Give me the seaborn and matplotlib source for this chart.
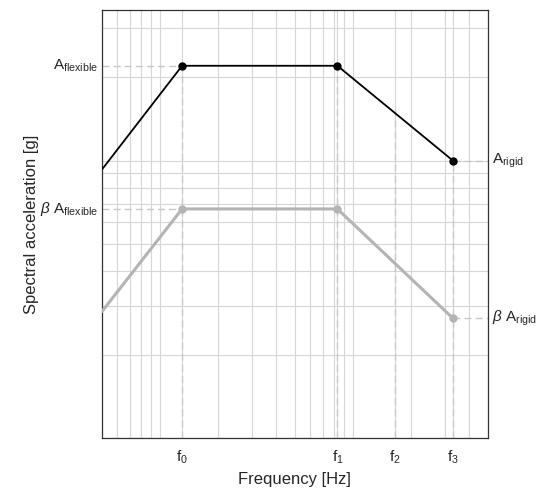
import numpy as np
import matplotlib
matplotlib.use("Agg")
import matplotlib.pyplot as plt
import seaborn as sns
from matplotlib.ticker import LogLocator, NullFormatter, FixedLocator

sns.set_theme(style="white")
plt.rcParams['font.family'] = ['Liberation Sans', 'DejaVu Sans']
plt.rcParams['mathtext.fontset'] = 'custom'
plt.rcParams['mathtext.rm'] = 'Liberation Sans'
plt.rcParams['mathtext.it'] = 'Liberation Sans:italic'

# data (log-log)
f_pts = [0.5, 1.3, 8.3, 33.0]
a_pts = [0.93, 2.2, 2.2, 1.0]
beta_pts = [0.286, 0.67, 0.67, 0.27]
f_ticks = [1.3, 8.3, 16.5, 33.0]
f_labels = ['f$_0$', 'f$_1$', 'f$_2$', 'f$_3$']
a_f2 = 1.58

fig = plt.figure(figsize=(5.5, 4.93), dpi=100)
ax = fig.add_axes([0.1855, 0.1116, 0.7015, 0.8684])
ax.set_xscale('log')
ax.set_yscale('log')
ax.set_xlim(0.5, 50)
ax.set_ylim(0.1, 3.5)

# grid
ax.xaxis.set_minor_locator(LogLocator(base=10, subs=np.arange(1, 10)))
ax.yaxis.set_minor_locator(LogLocator(base=10, subs=np.arange(1, 10)))
ax.grid(True, which='both', color='#d6d6d6', lw=0.8)
ax.xaxis.set_major_locator(FixedLocator(f_ticks))
ax.set_xticklabels(f_labels, fontsize=11)
ax.xaxis.set_minor_formatter(NullFormatter())
ax.yaxis.set_major_formatter(NullFormatter())
ax.yaxis.set_minor_formatter(NullFormatter())
ax.tick_params(axis='both', which='both', direction='in', length=3, color='#444444')
ax.tick_params(axis='x', which='major', length=0, pad=8)
for s in ax.spines.values():
    s.set_color('#333333')
    s.set_linewidth(0.9)

dash = dict(color='#c8c8c8', ls=(0, (5, 3)), lw=1.0, zorder=2)
x0, x1 = ax.get_xlim()
y0 = ax.get_ylim()[0]
ax.plot([x0, f_pts[1]], [a_pts[1]] * 2, **dash)
ax.plot([x0, f_pts[1]], [beta_pts[1]] * 2, **dash)
ax.plot([f_pts[1]] * 2, [y0, a_pts[1]], **dash)
ax.plot([f_pts[2]] * 2, [y0, a_pts[2]], **dash)
ax.plot([f_ticks[2]] * 2, [y0, a_f2], **dash)
ax.plot([f_pts[3]] * 2, [y0, a_pts[3]], **dash)
ax.plot([f_pts[3], x1], [a_pts[3]] * 2, **dash)
ax.plot([f_pts[3], x1], [beta_pts[3]] * 2, **dash)

sns.lineplot(x=f_pts, y=beta_pts, ax=ax, color='#b4b4b4', lw=2.2, zorder=3)
ax.plot(f_pts[1:], beta_pts[1:], 'o', color='#b4b4b4', ms=5, zorder=4)
sns.lineplot(x=f_pts, y=a_pts, ax=ax, color='black', lw=1.3, zorder=3)
ax.plot(f_pts[1:], a_pts[1:], 'o', color='black', ms=5, zorder=4)

ax.text(-0.01, a_pts[1], 'A$_{\\rm flexible}$', transform=ax.get_yaxis_transform(),
        ha='right', va='center', fontsize=11)
ax.text(-0.01, beta_pts[1], '$\\it{\\beta}$ A$_{\\rm flexible}$', transform=ax.get_yaxis_transform(),
        ha='right', va='center', fontsize=11)
ax.text(1.01, a_pts[3], 'A$_{\\rm rigid}$', transform=ax.get_yaxis_transform(),
        ha='left', va='center', fontsize=11)
ax.text(1.01, beta_pts[3], '$\\it{\\beta}$ A$_{\\rm rigid}$', transform=ax.get_yaxis_transform(),
        ha='left', va='center', fontsize=11)

ax.set_xlabel('Frequency [Hz]', fontsize=12)
ax.set_ylabel('Spectral acceleration [g]', fontsize=12, labelpad=42)

fig.savefig('out.png', dpi=100)
